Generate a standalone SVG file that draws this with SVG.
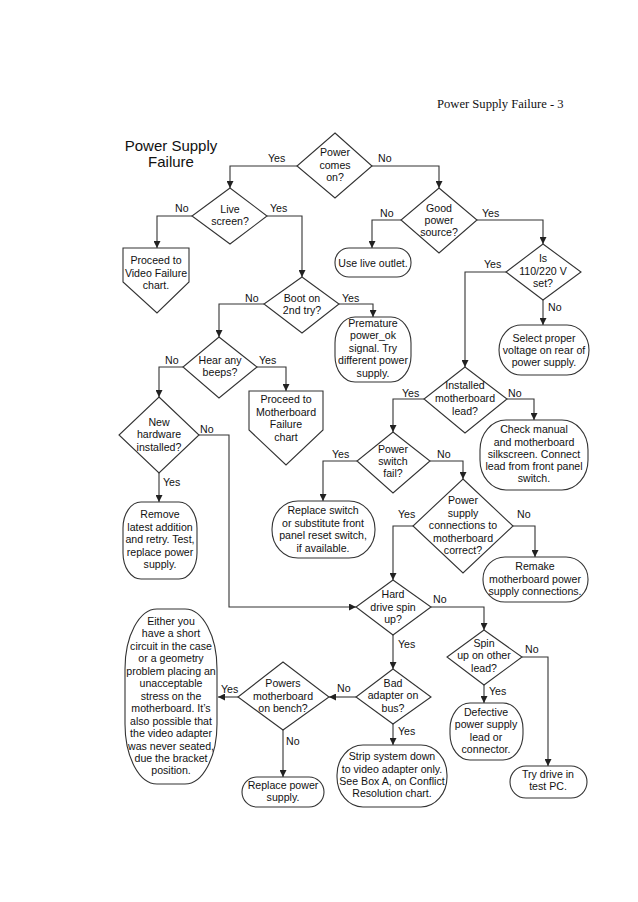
<svg xmlns="http://www.w3.org/2000/svg" width="638" height="902" viewBox="0 0 638 902">
<style>
text{font-family:"Liberation Sans",Arial,sans-serif;font-size:10.6px;fill:#111;text-anchor:middle}
.hdr{font-family:"Liberation Serif","Times New Roman",serif;font-size:12.6px;text-anchor:start}
.ttl{font-size:15px}
.lb{text-anchor:start}
.shape{fill:#fff;stroke:#333;stroke-width:1.1}
.con{fill:none;stroke:#333;stroke-width:1.1;marker-end:url(#ah)}
</style>
<defs>
<marker id="ah" markerUnits="userSpaceOnUse" markerWidth="8" markerHeight="7" refX="7" refY="3.5" orient="auto"><path d="M0,0 L7,3.5 L0,7 z" fill="#222"/></marker>
</defs>
<rect width="638" height="902" fill="#fff"/>
<text class="hdr" x="437" y="108">Power Supply Failure - 3</text>
<text class="ttl" x="171" y="151">Power Supply</text>
<text class="ttl" x="171" y="167">Failure</text>

<g id="connectors">
<path class="con" d="M297,166 H230 V188"/>
<path class="con" d="M372,166 H439 V188"/>
<path class="con" d="M192,216 H157 V248"/>
<path class="con" d="M267,216 H302 V277"/>
<path class="con" d="M401,220 H372 V248"/>
<path class="con" d="M477,220 H543 V244"/>
<path class="con" d="M506,272 H465 V367"/>
<path class="con" d="M543,300 V325"/>
<path class="con" d="M264,304 H219 V337"/>
<path class="con" d="M339,304 H373 V317"/>
<path class="con" d="M183,367 H159 V397"/>
<path class="con" d="M257,367 H286 V391"/>
<path class="con" d="M199,435 H229 V607 H356"/>
<path class="con" d="M159,473 V502"/>
<path class="con" d="M424,399 H393 V432"/>
<path class="con" d="M507,399 H534 V420"/>
<path class="con" d="M357,461 H323 V501"/>
<path class="con" d="M430,461 H463 V479"/>
<path class="con" d="M413,526 H393 V580"/>
<path class="con" d="M513,526 H535 V557"/>
<path class="con" d="M431,607 H484 V630"/>
<path class="con" d="M393,635 V669"/>
<path class="con" d="M522,657 H548 V766"/>
<path class="con" d="M484,685 V703"/>
<path class="con" d="M356,697 H329"/>
<path class="con" d="M393,724 V745"/>
<path class="con" d="M238,697 H218"/>
<path class="con" d="M283,730 V777"/>
</g>

<g id="labels">
<text class="lb" x="268" y="162">Yes</text>
<text class="lb" x="378" y="162">No</text>
<text class="lb" x="175" y="212">No</text>
<text class="lb" x="270" y="212">Yes</text>
<text class="lb" x="380" y="217">No</text>
<text class="lb" x="482" y="217">Yes</text>
<text class="lb" x="484" y="268">Yes</text>
<text class="lb" x="548" y="311">No</text>
<text class="lb" x="245" y="302">No</text>
<text class="lb" x="342" y="302">Yes</text>
<text class="lb" x="165" y="364">No</text>
<text class="lb" x="259" y="364">Yes</text>
<text class="lb" x="200" y="433">No</text>
<text class="lb" x="163" y="486">Yes</text>
<text class="lb" x="402" y="397">Yes</text>
<text class="lb" x="508" y="397">No</text>
<text class="lb" x="332" y="458">Yes</text>
<text class="lb" x="437" y="458">No</text>
<text class="lb" x="398" y="518">Yes</text>
<text class="lb" x="517" y="518">No</text>
<text class="lb" x="433" y="603">No</text>
<text class="lb" x="398" y="648">Yes</text>
<text class="lb" x="525" y="653">No</text>
<text class="lb" x="489" y="695">Yes</text>
<text class="lb" x="337" y="692">No</text>
<text class="lb" x="398" y="735">Yes</text>
<text class="lb" x="221" y="693">Yes</text>
<text class="lb" x="286" y="745">No</text>
</g>

<g id="n-power-on"><path class="shape" d="M335,133 L372,166 L335,198 L297,166 Z"/><text x="335" y="156">Power</text><text x="335" y="168.5">comes</text><text x="335" y="181">on?</text></g>
<g id="n-live-screen"><path class="shape" d="M230,188 L267,216 L230,244 L192,216 Z"/><text x="230" y="213">Live</text><text x="230" y="225">screen?</text></g>
<g id="n-video-failure"><path class="shape" d="M123,248 H189 V282 L157,313 L123,282 Z"/><text x="156" y="264">Proceed to</text><text x="156" y="277">Video Failure</text><text x="156" y="289">chart.</text></g>
<g id="n-good-power"><path class="shape" d="M439,188 L477,220 L439,253 L401,220 Z"/><text x="439" y="212">Good</text><text x="439" y="224">power</text><text x="439" y="236">source?</text></g>
<g id="n-live-outlet"><rect class="shape" x="335" y="248" width="76" height="29" rx="14" ry="14"/><text x="373" y="267">Use live outlet.</text></g>
<g id="n-110-220"><path class="shape" d="M543,244 L581,272 L543,300 L506,272 Z"/><text x="543" y="262">Is</text><text x="543" y="275">110/220 V</text><text x="543" y="287">set?</text></g>
<g id="n-select-voltage"><rect class="shape" x="499" y="325" width="90" height="50" rx="22" ry="25"/><text x="544" y="342">Select proper</text><text x="544" y="354">voltage on rear of</text><text x="544" y="366">power supply.</text></g>
<g id="n-boot-2nd"><path class="shape" d="M302,277 L339,304 L302,333 L264,304 Z"/><text x="302" y="302">Boot on</text><text x="302" y="314">2nd try?</text></g>
<g id="n-premature"><rect class="shape" x="335" y="317" width="76" height="65" rx="20" ry="26"/><text x="373" y="327">Premature</text><text x="373" y="339">power_ok</text><text x="373" y="352">signal. Try</text><text x="373" y="364">different power</text><text x="373" y="377">supply.</text></g>
<g id="n-beeps"><path class="shape" d="M219,337 L257,367 L219,398 L183,367 Z"/><text x="220" y="364">Hear any</text><text x="220" y="376">beeps?</text></g>
<g id="n-mb-failure"><path class="shape" d="M249,391 H323 V430 L286,465 L249,430 Z"/><text x="286" y="403">Proceed to</text><text x="286" y="416">Motherboard</text><text x="286" y="428">Failure</text><text x="286" y="441">chart</text></g>
<g id="n-new-hw"><path class="shape" d="M159,397 L199,435 L159,473 L119,435 Z"/><text x="159" y="426">New</text><text x="159" y="438">hardware</text><text x="159" y="451">installed?</text></g>
<g id="n-remove"><rect class="shape" x="123" y="502" width="74" height="77" rx="18" ry="26"/><text x="160" y="518">Remove</text><text x="160" y="531">latest addition</text><text x="160" y="543">and retry. Test,</text><text x="160" y="556">replace power</text><text x="160" y="568">supply.</text></g>
<g id="n-mb-lead"><path class="shape" d="M465,367 L507,399 L465,433 L424,399 Z"/><text x="465" y="389">Installed</text><text x="465" y="402">motherboard</text><text x="465" y="415">lead?</text></g>
<g id="n-check-manual"><rect class="shape" x="480" y="420" width="108" height="70" rx="26" ry="30"/><text x="534" y="433">Check manual</text><text x="534" y="446">and motherboard</text><text x="534" y="458">silkscreen. Connect</text><text x="534" y="470">lead from front panel</text><text x="534" y="482">switch.</text></g>
<g id="n-switch-fail"><path class="shape" d="M393,432 L430,461 L393,493 L357,461 Z"/><text x="393" y="453">Power</text><text x="393" y="465">switch</text><text x="393" y="477">fail?</text></g>
<g id="n-replace-switch"><rect class="shape" x="272" y="501" width="103" height="57" rx="26" ry="28"/><text x="323" y="514">Replace switch</text><text x="323" y="527">or substitute front</text><text x="323" y="539">panel reset switch,</text><text x="323" y="552">if available.</text></g>
<g id="n-ps-conn"><path class="shape" d="M463,479 L513,526 L463,573 L413,526 Z"/><text x="463" y="504">Power</text><text x="463" y="517">supply</text><text x="463" y="529">connections to</text><text x="463" y="542">motherboard</text><text x="463" y="554">correct?</text></g>
<g id="n-remake"><rect class="shape" x="483" y="557" width="105" height="45" rx="22" ry="22"/><text x="535" y="570">Remake</text><text x="535" y="583">motherboard power</text><text x="535" y="595">supply connections.</text></g>
<g id="n-hd-spin"><path class="shape" d="M393,580 L431,607 L393,635 L356,607 Z"/><text x="393" y="598">Hard</text><text x="393" y="611">drive spin</text><text x="393" y="623">up?</text></g>
<g id="n-other-lead"><path class="shape" d="M484,630 L522,657 L484,685 L447,657 Z"/><text x="484" y="647">Spin</text><text x="484" y="659">up on other</text><text x="484" y="672">lead?</text></g>
<g id="n-defective"><rect class="shape" x="450" y="703" width="73" height="57" rx="20" ry="26"/><text x="486" y="716">Defective</text><text x="486" y="728">power supply</text><text x="486" y="741">lead or</text><text x="486" y="753">connector.</text></g>
<g id="n-try-drive"><rect class="shape" x="510" y="766" width="77" height="32" rx="16" ry="16"/><text x="548" y="778">Try drive in</text><text x="548" y="790">test PC.</text></g>
<g id="n-bad-adapter"><path class="shape" d="M393,669 L431,697 L393,724 L356,697 Z"/><text x="393" y="687">Bad</text><text x="393" y="699">adapter on</text><text x="393" y="712">bus?</text></g>
<g id="n-strip"><rect class="shape" x="337" y="745" width="110" height="62" rx="26" ry="30"/><text x="392" y="760">Strip system down</text><text x="392" y="773">to video adapter only.</text><text x="392" y="785">See Box A, on Conflict</text><text x="392" y="797">Resolution chart.</text></g>
<g id="n-bench"><path class="shape" d="M283,662 L329,697 L283,730 L238,697 Z"/><text x="283" y="687">Powers</text><text x="283" y="700">motherboard</text><text x="283" y="712">on bench?</text></g>
<g id="n-replace-ps"><rect class="shape" x="242" y="777" width="82" height="30" rx="15" ry="15"/><text x="283" y="789">Replace power</text><text x="283" y="801">supply.</text></g>
<g id="n-either"><rect class="shape" x="125" y="609" width="92" height="175" rx="32" ry="60"/><text x="171" y="625">Either you</text><text x="171" y="637">have a short</text><text x="171" y="650">circuit in the case</text><text x="171" y="662">or a geometry</text><text x="171" y="675">problem placing an</text><text x="171" y="687">unacceptable</text><text x="171" y="700">stress on the</text><text x="171" y="712">motherboard. It’s</text><text x="171" y="725">also possible that</text><text x="171" y="737">the video adapter</text><text x="171" y="750">was never seated,</text><text x="171" y="762">due the bracket</text><text x="171" y="774">position.</text></g>
</svg>
